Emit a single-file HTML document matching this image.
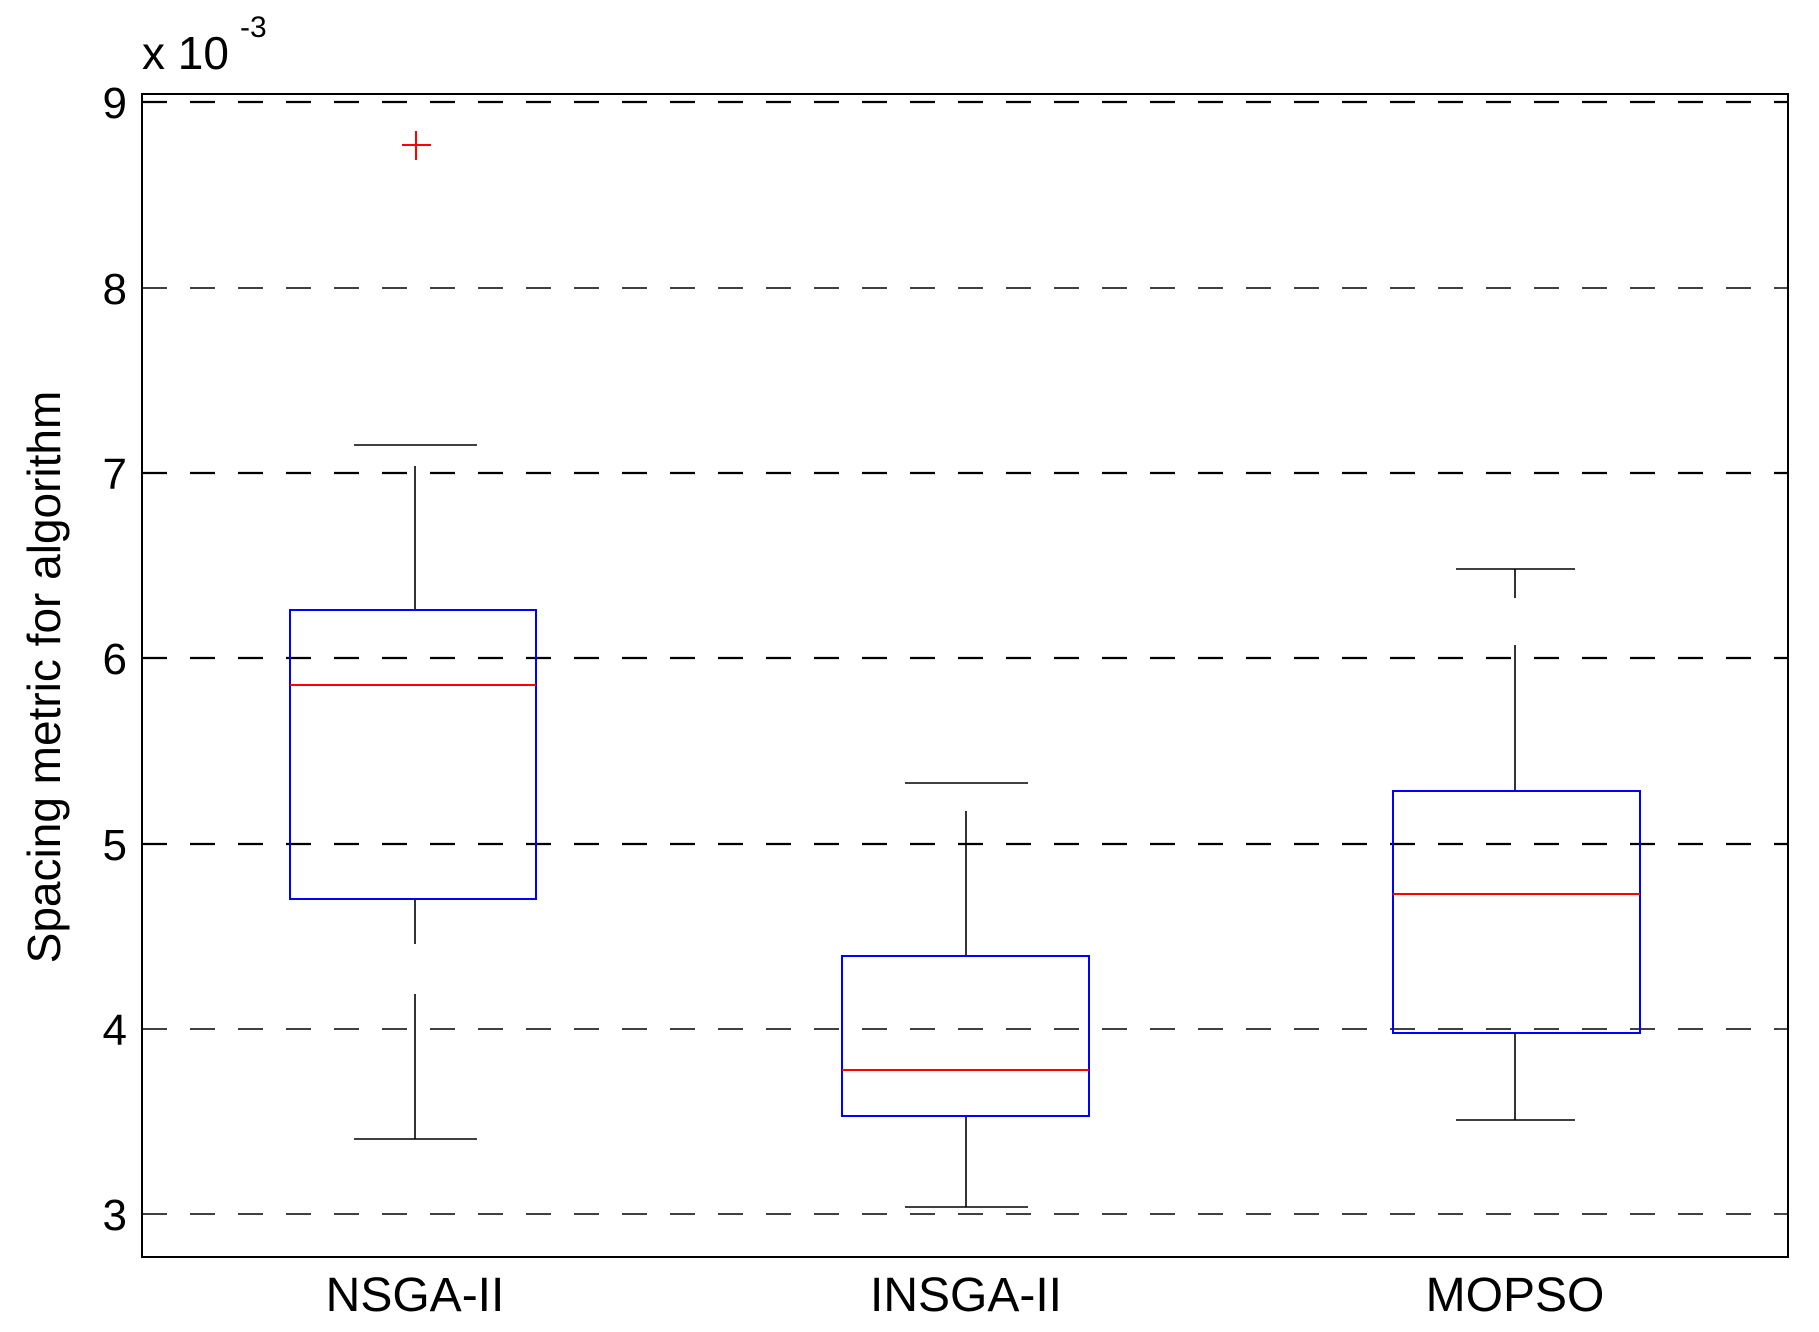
<!DOCTYPE html>
<html><head><meta charset="utf-8"><style>
html,body{margin:0;padding:0;background:#fff;}
svg{display:block;font-family:"Liberation Sans",Arial,sans-serif;}
</style></head><body>
<svg width="1819" height="1332" viewBox="0 0 1819 1332" xmlns="http://www.w3.org/2000/svg">
<rect width="1819" height="1332" fill="#fff"/>
<g stroke="#000" stroke-dasharray="25 23" fill="none">
<line x1="142" y1="102" x2="1788" y2="102" stroke-width="2.2"/>
<line x1="142" y1="288" x2="1788" y2="288" stroke-width="1.4"/>
<line x1="142" y1="473" x2="1788" y2="473" stroke-width="2.2"/>
<line x1="142" y1="658" x2="1788" y2="658" stroke-width="2.2"/>
<line x1="142" y1="844" x2="1788" y2="844" stroke-width="2.2"/>
<line x1="142" y1="1029" x2="1788" y2="1029" stroke-width="1.4"/>
<line x1="142" y1="1214" x2="1788" y2="1214" stroke-width="1.4"/>
</g>
<rect x="142" y="94" width="1646" height="1163" fill="none" stroke="#000" stroke-width="2"/>
<g stroke="#000" stroke-width="1.6" fill="none">
<line x1="354" y1="445" x2="477" y2="445"/>
<line x1="415" y1="466" x2="415" y2="610"/>
<line x1="415" y1="899" x2="415" y2="944"/>
<line x1="415" y1="994" x2="415" y2="1139"/>
<line x1="354" y1="1139" x2="477" y2="1139"/>
</g>
<rect x="290" y="610" width="246" height="289" fill="none" stroke="#00f" stroke-width="2"/>
<line x1="290" y1="685" x2="536" y2="685" stroke="#f00" stroke-width="2"/>
<g stroke="#f00" stroke-width="2"><line x1="402" y1="145" x2="431" y2="145"/><line x1="416" y1="131" x2="416" y2="160"/></g>
<g stroke="#000" stroke-width="1.6" fill="none">
<line x1="905" y1="783" x2="1028" y2="783"/>
<line x1="966" y1="811" x2="966" y2="956"/>
<line x1="966" y1="1116" x2="966" y2="1207"/>
<line x1="905" y1="1207" x2="1028" y2="1207"/>
</g>
<rect x="842" y="956" width="247" height="160" fill="none" stroke="#00f" stroke-width="2"/>
<line x1="842" y1="1070" x2="1089" y2="1070" stroke="#f00" stroke-width="2"/>
<g stroke="#000" stroke-width="1.6" fill="none">
<line x1="1456" y1="569" x2="1575" y2="569"/>
<line x1="1515" y1="569" x2="1515" y2="598"/>
<line x1="1515" y1="645" x2="1515" y2="791"/>
<line x1="1515" y1="1033" x2="1515" y2="1120"/>
<line x1="1456" y1="1120" x2="1575" y2="1120"/>
</g>
<rect x="1393" y="791" width="247" height="242" fill="none" stroke="#00f" stroke-width="2"/>
<line x1="1393" y1="894" x2="1640" y2="894" stroke="#f00" stroke-width="2"/>
<g font-size="44" text-anchor="end" fill="#000">
<text x="127" y="118">9</text>
<text x="127" y="304">8</text>
<text x="127" y="489">7</text>
<text x="127" y="674">6</text>
<text x="127" y="860">5</text>
<text x="127" y="1045">4</text>
<text x="127" y="1230">3</text>
</g>
<g font-size="48" text-anchor="middle" fill="#000">
<text x="415" y="1311">NSGA-II</text>
<text x="966" y="1311">INSGA-II</text>
<text x="1515" y="1311">MOPSO</text>
</g>
<text x="142" y="69" font-size="46" fill="#000">x 10</text>
<text x="240" y="37" font-size="30" fill="#000">-3</text>
<text transform="translate(60,677) rotate(-90)" font-size="46" text-anchor="middle" fill="#000">Spacing metric for algorithm</text>
</svg>
</body></html>
